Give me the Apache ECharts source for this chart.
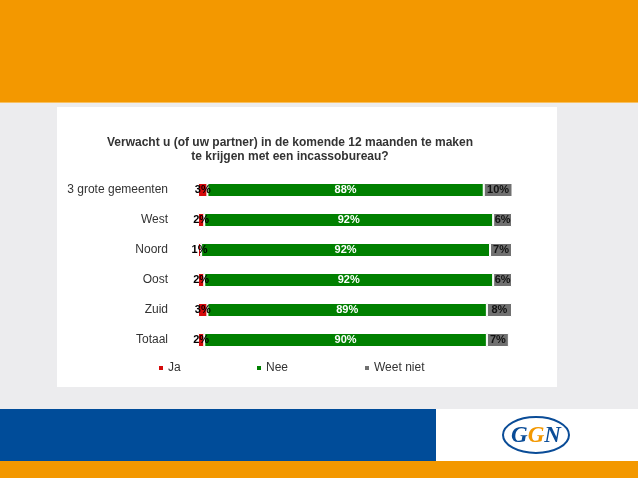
<!DOCTYPE html>
<html>
<head>
<meta charset="utf-8">
<script src="https://cdn.jsdelivr.net/npm/echarts@6/dist/echarts.min.js"></script>
<style>
  html, body { margin: 0; padding: 0; background: #ececee; }
  #chart { width: 638px; height: 478px; }
</style>
</head>
<body>
<div id="chart"></div>
<script>
// categories (top to bottom)
const categories = ["3 grote gemeenten", "West", "Noord", "Oost", "Zuid", "Totaal"];

// percentages per answer
const jaValues = [3, 2, 1, 2, 3, 2];
const neeValues = [88, 92, 92, 92, 89, 90];
const weetNietValues = [10, 6, 7, 6, 8, 7];

const seriesNames = ["Ja", "Nee", "Weet niet"];

const RED = "#d40a0a";
const GREEN = "#008000";
const GRAY = "#707070";
const FONT = "Liberation Sans, Arial, sans-serif";

const chart = echarts.init(document.getElementById("chart"));

// label helper
function barLabel(color) {
  return {
    show: true,
    position: "inside",
    formatter: "{c}%",
    color: color,
    fontFamily: FONT,
    fontWeight: "bold",
    fontSize: 11,
  };
}

function legendAt(name, left) {
  return {
    data: [name],
    left: left,
    top: 362,
    padding: 0,
    icon: "rect",
    itemWidth: 4,
    itemHeight: 4,
    itemGap: 5,
    itemStyle: { borderWidth: 0 },
    selectedMode: false,
    textStyle: { color: "#333333", fontFamily: FONT, fontSize: 12 },
  };
}

const option = {
  backgroundColor: "#ececee",
  animation: false,
  graphic: [
    // top orange band
    { type: "rect", shape: { x: 0, y: 0, width: 638, height: 102 }, style: { fill: "#f39800" }, z: -10 },
    { type: "rect", shape: { x: 0, y: 102, width: 638, height: 1 }, style: { fill: "#f8c060" }, z: -10 },
    // white panel
    { type: "rect", shape: { x: 57, y: 107, width: 500, height: 280 }, style: { fill: "#ffffff" }, z: -10 },
    // bottom blue band
    { type: "rect", shape: { x: 0, y: 409, width: 436, height: 52 }, style: { fill: "#004c99" }, z: -10 },
    { type: "rect", shape: { x: 436, y: 409, width: 202, height: 52 }, style: { fill: "#ffffff" }, z: -10 },
    // bottom orange band
    { type: "rect", shape: { x: 0, y: 461, width: 638, height: 17 }, style: { fill: "#f39800" }, z: -10 },
    // logo
    {
      type: "ellipse",
      shape: { cx: 536, cy: 435, rx: 33, ry: 18 },
      style: { fill: "none", stroke: "#0a4c97", lineWidth: 2 },
    },
    {
      type: "text",
      x: 536,
      y: 436,
      style: {
        text: "{b|G}{o|G}{b|N}",
        align: "center",
        verticalAlign: "middle",
        rich: {
          b: { fontFamily: "Liberation Serif, serif", fontStyle: "italic", fontWeight: "bold", fontSize: 23, fill: "#0a4c97" },
          o: { fontFamily: "Liberation Serif, serif", fontStyle: "italic", fontWeight: "bold", fontSize: 23, fill: "#f39800" },
        },
      },
    },
  ],
  title: {
    text: "Verwacht u (of uw partner) in de komende 12 maanden te maken\nte krijgen met een incassobureau?",
    left: 285,
    top: 131,
    textAlign: "center",
    textStyle: {
      color: "#333333",
      fontFamily: FONT,
      fontWeight: "bold",
      fontSize: 12,
      lineHeight: 14,
    },
  },
  legend: [
    legendAt("Ja", 159),
    legendAt("Nee", 257),
    legendAt("Weet niet", 365),
  ],
  grid: {
    left: 198,
    right: 126,
    top: 175,
    bottom: 123,
    containLabel: false,
  },
  xAxis: {
    type: "value",
    min: 0,
    max: 100,
    show: false,
  },
  yAxis: {
    type: "category",
    data: categories,
    inverse: true,
    axisLine: { show: false },
    axisTick: { show: false },
    axisLabel: {
      margin: 30,
      color: "#333333",
      fontFamily: FONT,
      fontSize: 12,
    },
  },
  series: [
    {
      name: seriesNames[0],
      type: "bar",
      stack: "total",
      barWidth: 14,
      data: jaValues,
      itemStyle: { color: RED, borderColor: "#ffffff", borderWidth: 1 },
      label: barLabel("#000000"),
      z: 3,
    },
    {
      name: seriesNames[1],
      type: "bar",
      stack: "total",
      barWidth: 14,
      data: neeValues,
      itemStyle: { color: GREEN, borderColor: "#ffffff", borderWidth: 1 },
      label: barLabel("#ffffff"),
    },
    {
      name: seriesNames[2],
      type: "bar",
      stack: "total",
      barWidth: 14,
      data: weetNietValues,
      itemStyle: { color: GRAY, borderColor: "#ffffff", borderWidth: 1 },
      label: barLabel("#111111"),
    },
  ],
};

chart.setOption(option);
</script>
</body>
</html>
